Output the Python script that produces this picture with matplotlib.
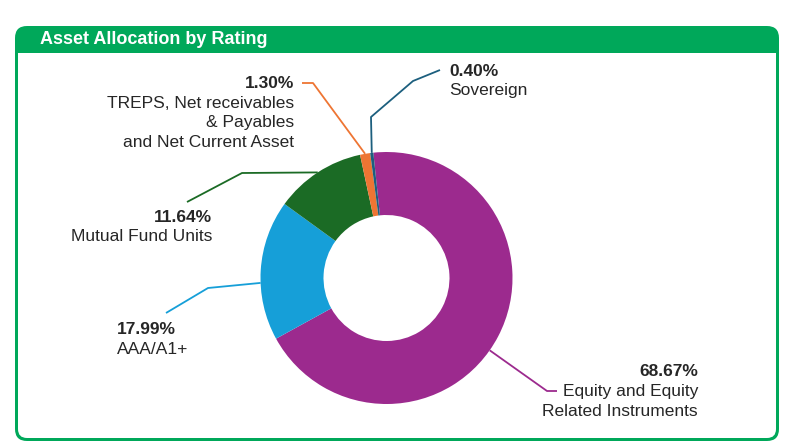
import numpy as np
import matplotlib
matplotlib.use("Agg")
import matplotlib.pyplot as plt
from matplotlib.patches import FancyBboxPatch, Rectangle

plt.rcParams['font.family'] = ['Liberation Sans', 'DejaVu Sans']

# data
categories = ["Equity and Equity\nRelated Instruments", "AAA/A1+", "Mutual Fund Units",
              "TREPS, Net receivables\n& Payables\nand Net Current Asset", "Sovereign"]
values = [68.67, 17.99, 11.64, 1.30, 0.40]
colors = ["#9c2a8e", "#169fd8", "#1b6b25", "#ee7533", "#1c5f7e"]
title = "Asset Allocation by Rating"

W, H = 798, 446
fig = plt.figure(figsize=(W / 100, H / 100), dpi=100)
ax = fig.add_axes([0, 0, 1, 1])

def py(y):  # pixel row -> data y
    return H - y

green = "#00a85a"
# frame
ax.add_patch(FancyBboxPatch((15, py(441)), 764, 415, boxstyle="round,pad=0,rounding_size=12",
                            fc=green, ec="none"))
ax.add_patch(FancyBboxPatch((18, py(438)), 758, 398, boxstyle="round,pad=0,rounding_size=9",
                            fc="white", ec="none"))
ax.add_patch(Rectangle((18, py(53)), 758, 14, fc=green, ec="none"))
ax.text(40, py(40), title, color="white", fontsize=13, fontweight="bold", va="center", ha="left")

# donut
cx, cy, R = 386.5, py(278), 126
start = 96
wedges, _ = ax.pie(values, colors=colors, startangle=start, counterclock=False,
                   center=(cx, cy), radius=R, wedgeprops=dict(width=R * 0.5, edgecolor="none"),
                   frame=True)

# where along each wedge the leader attaches (0..1 from clockwise start)
attach = [0.53, 0.41, 0.5, 0.5, 0.5]
# leader elbows and label anchors (pixel coords)
leaders = [
    [(547, 391), (557, 391)],
    [(208, 288), (166, 313)],
    [(242, 173), (187, 202)],
    [(313, 83), (302, 83)],
    [(371, 117), (413, 81), (440, 70)],
]
anchors = [(698, 372, "right"), (117, 330, "left"), (212, 217, "right"),
           (294, 84, "right"), (449, 71, "left")]

txt = "#262626"
for w, f, pts, (tx, ty, ha), val, cat, col in zip(wedges, attach, leaders, anchors,
                                                   values, categories, colors):
    ang = np.deg2rad(w.theta2 - f * (w.theta2 - w.theta1))
    xs = [cx + R * np.cos(ang)] + [p[0] for p in pts]
    ys = [cy + R * np.sin(ang)] + [py(p[1]) for p in pts]
    ax.plot(xs, ys, color=col, lw=1.3, solid_capstyle="butt", zorder=1)
    ax.text(tx, py(ty), f"{val:.2f}%", color=txt, fontsize=12.5, fontweight="bold",
            ha=ha, va="center")
    for i, line in enumerate(cat.split("\n")):
        ax.text(tx, py(ty + 19.5 * (i + 1)), line, color=txt, fontsize=12.5, ha=ha, va="center")

ax.set_xlim(0, W)
ax.set_ylim(0, H)
ax.set_aspect("auto")
ax.axis("off")

fig.savefig("out.png", dpi=100)
